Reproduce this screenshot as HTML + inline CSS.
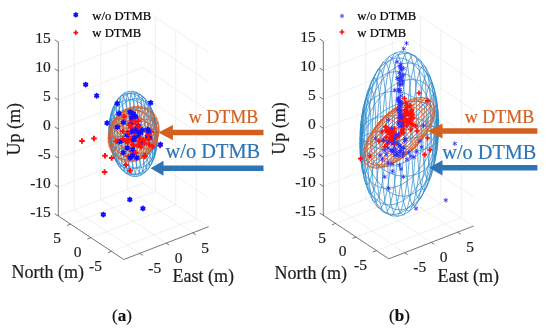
<!DOCTYPE html>
<html><head><meta charset="utf-8"><title>figure</title>
<style>html,body{margin:0;padding:0;background:#fff}svg{display:block}</style></head>
<body>
<svg width="550" height="331" viewBox="0 0 550 331" style="display:block">
<rect width="550" height="331" fill="#fff"/>
<path d="M139.7 253.3L74.2 209.8 M111.5 251.3L196.3 218.5 M74.2 209.8L74.2 35.8 M196.3 218.5L196.3 44.5 M166.2 243.1L100.7 199.6 M91 237.7L175.8 204.9 M100.7 199.6L100.7 25.6 M175.8 204.9L175.8 30.9 M192.7 232.8L127.2 189.3 M70.6 224.1L155.4 191.3 M127.2 189.3L127.2 15.3 M155.4 191.3L155.4 17.3 M58.3 216L143.1 183.2 M143.1 183.2L208.6 226.7 M58.3 187L143.1 154.2 M143.1 154.2L208.6 197.7 M58.3 158L143.1 125.2 M143.1 125.2L208.6 168.7 M58.3 129L143.1 96.2 M143.1 96.2L208.6 139.7 M58.3 100L143.1 67.2 M143.1 67.2L208.6 110.7 M58.3 71L143.1 38.2 M143.1 38.2L208.6 81.7 M58.3 42L143.1 9.2 M143.1 9.2L208.6 52.7" stroke="#e9e9e9" stroke-width="0.7" fill="none"/>
<rect x="64" y="4" width="86" height="37" fill="#fff"/>
<path d="M58.3 216L58.3 42 M58.3 216L123.8 259.5 M123.8 259.5L208.6 226.7 M139.7 253.3L142.7 255.3 M111.5 251.3L107.9 252.7 M166.2 243.1L169.2 245.1 M91 237.7L87.4 239.1 M192.7 232.8L195.7 234.8 M70.6 224.1L67 225.5 M58.3 216L54.7 213.8 M58.3 187L54.7 184.8 M58.3 158L54.7 155.8 M58.3 129L54.7 126.8 M58.3 100L54.7 97.8 M58.3 71L54.7 68.8 M58.3 42L54.7 39.8" stroke="#4a4a4a" stroke-width="0.75" fill="none"/>
<path d="M404.7 252.7L339.2 209.1 M376.5 250.6L461.3 217.8 M339.2 209.1L339.2 35.1 M461.3 217.8L461.3 43.8 M431.2 242.4L365.7 198.9 M356 237L440.8 204.2 M365.7 198.9L365.7 24.9 M440.8 204.2L440.8 30.2 M457.7 232.2L392.2 188.6 M335.6 223.4L420.4 190.6 M392.2 188.6L392.2 14.6 M420.4 190.6L420.4 16.6 M323.3 215.3L408.1 182.5 M408.1 182.5L473.6 226 M323.3 186.3L408.1 153.5 M408.1 153.5L473.6 197 M323.3 157.3L408.1 124.5 M408.1 124.5L473.6 168 M323.3 128.3L408.1 95.5 M408.1 95.5L473.6 139 M323.3 99.3L408.1 66.5 M408.1 66.5L473.6 110 M323.3 70.3L408.1 37.5 M408.1 37.5L473.6 81 M323.3 41.3L408.1 8.5 M408.1 8.5L473.6 52" stroke="#e9e9e9" stroke-width="0.7" fill="none"/>
<rect x="329" y="3.3" width="86" height="37" fill="#fff"/>
<path d="M323.3 215.3L323.3 41.3 M323.3 215.3L388.8 258.8 M388.8 258.8L473.6 226 M404.7 252.7L407.7 254.7 M376.5 250.6L372.9 252 M431.2 242.4L434.2 244.4 M356 237L352.4 238.4 M457.7 232.2L460.7 234.2 M335.6 223.4L332 224.8 M323.3 215.3L319.7 213.1 M323.3 186.3L319.7 184.1 M323.3 157.3L319.7 155.1 M323.3 128.3L319.7 126.1 M323.3 99.3L319.7 97.1 M323.3 70.3L319.7 68.1 M323.3 41.3L319.7 39.1" stroke="#4a4a4a" stroke-width="0.75" fill="none"/>
<path d="M110 138.3L109.9 131.9L110.3 125.5L111.4 119.4L112.9 113.6L115 108.3L117.5 103.6L120.4 99.7L123.6 96.6L127 94.4L130.6 93.2L134.2 93L137.9 93.8L141.4 95.6L144.7 98.3L147.7 102L150.4 106.4L152.7 111.4L154.4 117.1L155.7 123.1L156.4 129.4M110 138.3L110.2 132.8L111 127.3L112.3 122L114.2 117L116.5 112.4L119.2 108.3L122.3 104.8L125.6 102.1L129.1 100.1L132.7 99L136.4 98.7L139.9 99.3L143.3 100.8L146.4 103L149.3 106.1L151.7 109.8L153.6 114.1L155.1 118.8L156 124L156.4 129.4M110 138.3L110.6 134.3L111.7 130.2L113.3 126.2L115.5 122.4L118 118.9L121 115.8L124.2 113.1L127.7 110.9L131.3 109.3L134.9 108.2L138.5 107.9L142 108.1L145.2 109L148.2 110.5L150.8 112.6L153 115.2L154.6 118.3L155.8 121.7L156.3 125.4L156.4 129.4M110 138.3L110.9 136.1L112.3 133.8L114.2 131.5L116.6 129.3L119.4 127.2L122.6 125.2L126 123.5L129.6 122L133.3 120.8L136.9 120L140.5 119.4L143.9 119.3L147 119.5L149.8 120L152.2 120.9L154.1 122.1L155.5 123.6L156.4 125.3L156.7 127.3L156.4 129.4M110 138.3L111.1 138.1L112.8 137.9L115 137.5L117.6 137L120.6 136.5L123.9 135.8L127.5 135.2L131.2 134.5L134.9 133.8L138.6 133.1L142.1 132.4L145.5 131.7L148.5 131.1L151.2 130.6L153.4 130.1L155.1 129.8L156.3 129.5L156.9 129.4L156.9 129.3L156.4 129.4M110 138.3L111.3 140.2L113.2 141.9L115.5 143.5L118.3 144.7L121.4 145.8L124.8 146.5L128.5 146.9L132.2 147L136 146.8L139.7 146.2L143.2 145.4L146.5 144.2L149.5 142.9L152.1 141.2L154.2 139.5L155.8 137.5L156.8 135.5L157.2 133.4L157.1 131.4L156.4 129.4M110 138.3L111.4 142.1L113.3 145.6L115.7 148.9L118.5 151.8L121.7 154.2L125.2 156.2L128.9 157.6L132.7 158.4L136.5 158.6L140.2 158.2L143.7 157.2L147 155.6L149.9 153.5L152.5 150.9L154.5 147.9L156 144.6L157 140.9L157.4 137.1L157.2 133.3L156.4 129.4M110 138.3L111.4 143.6L113.2 148.6L115.6 153.2L118.4 157.4L121.6 161L125.1 163.9L128.7 166.1L132.5 167.5L136.3 168.1L140 167.8L143.5 166.7L146.8 164.7L149.8 162L152.3 158.7L154.4 154.7L155.9 150.2L156.9 145.3L157.3 140.1L157.1 134.8L156.4 129.4M110 138.3L111.2 144.6L113 150.5L115.2 156.1L117.9 161.1L121 165.4L124.4 169L127.9 171.7L131.7 173.4L135.4 174.2L139.1 174L142.7 172.8L146 170.7L149 167.6L151.6 163.7L153.8 159.1L155.4 153.9L156.5 148.1L157.1 142L157 135.7L156.4 129.4M110 138.3L111 144.9L112.5 151.2L114.6 157.1L117.1 162.5L120 167.1L123.2 170.9L126.7 173.8L130.3 175.7L134 176.5L137.7 176.4L141.2 175.1L144.6 172.9L147.7 169.7L150.4 165.6L152.7 160.8L154.6 155.2L155.9 149.2L156.6 142.7L156.8 136.1L156.4 129.4M110 138.3L110.7 144.6L111.9 150.7L113.7 156.3L116 161.4L118.6 165.8L121.7 169.4L125 172.1L128.5 173.9L132.1 174.7L135.8 174.5L139.4 173.3L142.8 171.2L146 168.1L148.9 164.1L151.4 159.5L153.5 154.2L155 148.3L156 142.2L156.5 135.8L156.4 129.4M110 138.3L110.4 143.7L111.3 148.9L112.7 153.7L114.7 158L117.1 161.7L119.9 164.7L123.1 166.9L126.5 168.4L130 169L133.6 168.7L137.3 167.6L140.8 165.6L144.1 162.9L147.2 159.4L149.9 155.3L152.2 150.7L154 145.7L155.4 140.4L156.1 134.9L156.4 129.4M110 138.3L110 142.3L110.6 146L111.7 149.5L113.4 152.5L115.6 155.1L118.2 157.2L121.1 158.7L124.4 159.6L127.8 159.9L131.5 159.5L135.1 158.5L138.7 156.9L142.2 154.7L145.4 152L148.3 148.8L150.9 145.3L153 141.5L154.7 137.5L155.8 133.5L156.4 129.4M110 138.3L109.7 140.4L110 142.4L110.8 144.1L112.2 145.6L114.1 146.8L116.5 147.7L119.3 148.3L122.5 148.5L125.9 148.3L129.4 147.8L133.1 146.9L136.8 145.7L140.4 144.2L143.8 142.5L146.9 140.5L149.7 138.4L152.1 136.2L154.1 133.9L155.5 131.6L156.4 129.4M110 138.3L109.4 138.4L109.5 138.4L110.1 138.2L111.3 137.9L113 137.6L115.2 137.1L117.9 136.6L120.9 136L124.2 135.3L127.8 134.7L131.5 134L135.2 133.2L138.9 132.5L142.4 131.9L145.8 131.3L148.8 130.7L151.4 130.2L153.6 129.9L155.2 129.6L156.4 129.4M110 138.3L109.3 136.3L109.1 134.3L109.6 132.2L110.6 130.2L112.2 128.3L114.3 126.5L116.9 124.9L119.8 123.5L123.1 122.3L126.7 121.5L130.4 120.9L134.1 120.7L137.9 120.8L141.5 121.2L145 122L148.1 123L150.9 124.3L153.2 125.8L155.1 127.5L156.4 129.4M110 138.3L109.2 134.5L109 130.6L109.4 126.8L110.3 123.2L111.8 119.8L113.9 116.8L116.4 114.2L119.4 112.1L122.6 110.5L126.2 109.5L129.9 109.1L133.7 109.3L137.5 110.2L141.1 111.6L144.6 113.5L147.8 115.9L150.7 118.8L153.1 122.1L155 125.6L156.4 129.4M110 138.3L109.2 133L109 127.6L109.4 122.4L110.4 117.5L112 113L114.1 109.1L116.6 105.7L119.6 103L122.8 101.1L126.4 100L130.1 99.7L133.9 100.2L137.7 101.6L141.3 103.8L144.8 106.7L147.9 110.3L150.7 114.5L153.1 119.1L155 124.1L156.4 129.4M110 138.3L109.4 132L109.3 125.7L109.8 119.6L110.9 113.9L112.6 108.6L114.8 104L117.4 100.1L120.4 97L123.7 94.9L127.3 93.7L131 93.5L134.7 94.3L138.4 96L142 98.7L145.4 102.3L148.4 106.6L151.1 111.6L153.4 117.2L155.1 123.2L156.4 129.4M110 138.3L109.6 131.6L109.8 125L110.5 118.5L111.8 112.5L113.6 107L115.9 102.1L118.7 98L121.8 94.8L125.1 92.6L128.7 91.4L132.4 91.2L136.1 92.1L139.7 94L143.2 96.9L146.4 100.7L149.3 105.3L151.8 110.6L153.8 116.5L155.4 122.8L156.4 129.4M109.9 131.9L110.2 132.8L110.6 134.3L110.9 136.1L111.1 138.1L111.3 140.2L111.4 142.1L111.4 143.6L111.2 144.6L111 144.9L110.7 144.6L110.4 143.7L110 142.3L109.7 140.4L109.4 138.4L109.3 136.3L109.2 134.5L109.2 133L109.4 132L109.6 131.6L109.9 131.9M110.3 125.5L111 127.3L111.7 130.2L112.3 133.8L112.8 137.9L113.2 141.9L113.3 145.6L113.2 148.6L113 150.5L112.5 151.2L111.9 150.7L111.3 148.9L110.6 146L110 142.4L109.5 138.4L109.1 134.3L109 130.6L109 127.6L109.3 125.7L109.8 125L110.3 125.5M111.4 119.4L112.3 122L113.3 126.2L114.2 131.5L115 137.5L115.5 143.5L115.7 148.9L115.6 153.2L115.2 156.1L114.6 157.1L113.7 156.3L112.7 153.7L111.7 149.5L110.8 144.1L110.1 138.2L109.6 132.2L109.4 126.8L109.4 122.4L109.8 119.6L110.5 118.5L111.4 119.4M112.9 113.6L114.2 117L115.5 122.4L116.6 129.3L117.6 137L118.3 144.7L118.5 151.8L118.4 157.4L117.9 161.1L117.1 162.5L116 161.4L114.7 158L113.4 152.5L112.2 145.6L111.3 137.9L110.6 130.2L110.3 123.2L110.4 117.5L110.9 113.9L111.8 112.5L112.9 113.6M115 108.3L116.5 112.4L118 118.9L119.4 127.2L120.6 136.5L121.4 145.8L121.7 154.2L121.6 161L121 165.4L120 167.1L118.6 165.8L117.1 161.7L115.6 155.1L114.1 146.8L113 137.6L112.2 128.3L111.8 119.8L112 113L112.6 108.6L113.6 107L115 108.3M117.5 103.6L119.2 108.3L121 115.8L122.6 125.2L123.9 135.8L124.8 146.5L125.2 156.2L125.1 163.9L124.4 169L123.2 170.9L121.7 169.4L119.9 164.7L118.2 157.2L116.5 147.7L115.2 137.1L114.3 126.5L113.9 116.8L114.1 109.1L114.8 104L115.9 102.1L117.5 103.6M120.4 99.7L122.3 104.8L124.2 113.1L126 123.5L127.5 135.2L128.5 146.9L128.9 157.6L128.7 166.1L127.9 171.7L126.7 173.8L125 172.1L123.1 166.9L121.1 158.7L119.3 148.3L117.9 136.6L116.9 124.9L116.4 114.2L116.6 105.7L117.4 100.1L118.7 98L120.4 99.7M123.6 96.6L125.6 102.1L127.7 110.9L129.6 122L131.2 134.5L132.2 147L132.7 158.4L132.5 167.5L131.7 173.4L130.3 175.7L128.5 173.9L126.5 168.4L124.4 159.6L122.5 148.5L120.9 136L119.8 123.5L119.4 112.1L119.6 103L120.4 97L121.8 94.8L123.6 96.6M127 94.4L129.1 100.1L131.3 109.3L133.3 120.8L134.9 133.8L136 146.8L136.5 158.6L136.3 168.1L135.4 174.2L134 176.5L132.1 174.7L130 169L127.8 159.9L125.9 148.3L124.2 135.3L123.1 122.3L122.6 110.5L122.8 101.1L123.7 94.9L125.1 92.6L127 94.4M130.6 93.2L132.7 99L134.9 108.2L136.9 120L138.6 133.1L139.7 146.2L140.2 158.2L140 167.8L139.1 174L137.7 176.4L135.8 174.5L133.6 168.7L131.5 159.5L129.4 147.8L127.8 134.7L126.7 121.5L126.2 109.5L126.4 100L127.3 93.7L128.7 91.4L130.6 93.2M134.2 93L136.4 98.7L138.5 107.9L140.5 119.4L142.1 132.4L143.2 145.4L143.7 157.2L143.5 166.7L142.7 172.8L141.2 175.1L139.4 173.3L137.3 167.6L135.1 158.5L133.1 146.9L131.5 134L130.4 120.9L129.9 109.1L130.1 99.7L131 93.5L132.4 91.2L134.2 93M137.9 93.8L139.9 99.3L142 108.1L143.9 119.3L145.5 131.7L146.5 144.2L147 155.6L146.8 164.7L146 170.7L144.6 172.9L142.8 171.2L140.8 165.6L138.7 156.9L136.8 145.7L135.2 133.2L134.1 120.7L133.7 109.3L133.9 100.2L134.7 94.3L136.1 92.1L137.9 93.8M141.4 95.6L143.3 100.8L145.2 109L147 119.5L148.5 131.1L149.5 142.9L149.9 153.5L149.8 162L149 167.6L147.7 169.7L146 168.1L144.1 162.9L142.2 154.7L140.4 144.2L138.9 132.5L137.9 120.8L137.5 110.2L137.7 101.6L138.4 96L139.7 94L141.4 95.6M144.7 98.3L146.4 103L148.2 110.5L149.8 120L151.2 130.6L152.1 141.2L152.5 150.9L152.3 158.7L151.6 163.7L150.4 165.6L148.9 164.1L147.2 159.4L145.4 152L143.8 142.5L142.4 131.9L141.5 121.2L141.1 111.6L141.3 103.8L142 98.7L143.2 96.9L144.7 98.3M147.7 102L149.3 106.1L150.8 112.6L152.2 120.9L153.4 130.1L154.2 139.5L154.5 147.9L154.4 154.7L153.8 159.1L152.7 160.8L151.4 159.5L149.9 155.3L148.3 148.8L146.9 140.5L145.8 131.3L145 122L144.6 113.5L144.8 106.7L145.4 102.3L146.4 100.7L147.7 102M150.4 106.4L151.7 109.8L153 115.2L154.1 122.1L155.1 129.8L155.8 137.5L156 144.6L155.9 150.2L155.4 153.9L154.6 155.2L153.5 154.2L152.2 150.7L150.9 145.3L149.7 138.4L148.8 130.7L148.1 123L147.8 115.9L147.9 110.3L148.4 106.6L149.3 105.3L150.4 106.4M152.7 111.4L153.6 114.1L154.6 118.3L155.5 123.6L156.3 129.5L156.8 135.5L157 140.9L156.9 145.3L156.5 148.1L155.9 149.2L155 148.3L154 145.7L153 141.5L152.1 136.2L151.4 130.2L150.9 124.3L150.7 118.8L150.7 114.5L151.1 111.6L151.8 110.6L152.7 111.4M154.4 117.1L155.1 118.8L155.8 121.7L156.4 125.3L156.9 129.4L157.2 133.4L157.4 137.1L157.3 140.1L157.1 142L156.6 142.7L156 142.2L155.4 140.4L154.7 137.5L154.1 133.9L153.6 129.9L153.2 125.8L153.1 122.1L153.1 119.1L153.4 117.2L153.8 116.5L154.4 117.1M155.7 123.1L156 124L156.3 125.4L156.7 127.3L156.9 129.3L157.1 131.4L157.2 133.3L157.1 134.8L157 135.7L156.8 136.1L156.5 135.8L156.1 134.9L155.8 133.5L155.5 131.6L155.2 129.6L155.1 127.5L155 125.6L155 124.1L155.1 123.2L155.4 122.8L155.7 123.1" stroke="#2b8acb" stroke-width="0.7" fill="none" stroke-linejoin="round"/>
<path d="M153.8 146.9L156 142.9L157.6 138.6L158.7 134.3L159.1 129.9L158.9 125.7L158.1 121.6L156.7 117.8L154.7 114.5L152.2 111.6L149.2 109.3L145.8 107.6L142.2 106.5L138.3 106.1L134.3 106.4L130.3 107.4L126.4 109L122.7 111.3L119.2 114.1L116.1 117.4L113.4 121.1M153.8 146.9L155.9 143L157.4 138.9L158.3 134.7L158.6 130.5L158.3 126.3L157.4 122.4L155.9 118.7L153.8 115.4L151.3 112.6L148.3 110.2L144.9 108.5L141.3 107.4L137.5 107L133.6 107.2L129.7 108.1L125.9 109.6L122.3 111.7L118.9 114.4L115.9 117.5L113.4 121.1M153.8 146.9L155.5 143.5L156.6 140L157.2 136.2L157.2 132.4L156.6 128.7L155.5 125L153.8 121.6L151.6 118.5L149 115.8L145.9 113.5L142.6 111.8L139.1 110.5L135.4 109.9L131.7 109.8L128 110.4L124.5 111.5L121.2 113.2L118.2 115.4L115.6 118L113.4 121.1M153.8 146.9L154.9 144.4L155.5 141.6L155.6 138.6L155.1 135.5L154.1 132.4L152.6 129.3L150.6 126.3L148.2 123.5L145.5 121L142.4 118.8L139.1 117L135.7 115.6L132.3 114.6L128.8 114.1L125.5 114.1L122.4 114.6L119.6 115.6L117.1 117L115 118.9L113.4 121.1M153.8 146.9L154.3 145.4L154.2 143.7L153.6 141.7L152.5 139.5L151 137.2L149 134.8L146.7 132.4L144 130L141.1 127.7L138 125.6L134.8 123.7L131.5 122L128.3 120.6L125.3 119.6L122.4 118.9L119.8 118.6L117.6 118.7L115.7 119.1L114.3 119.9L113.4 121.1M153.8 146.9L153.5 146.6L152.7 146L151.4 145.1L149.7 144L147.6 142.5L145.1 140.9L142.4 139.1L139.4 137.2L136.3 135.2L133.2 133.2L130 131.2L126.9 129.2L124 127.4L121.4 125.7L119 124.3L117 123.1L115.4 122.1L114.2 121.5L113.6 121.1L113.4 121.1M153.8 146.9L152.8 147.8L151.2 148.4L149.2 148.6L146.9 148.5L144.2 148L141.2 147.1L138.1 146L134.9 144.5L131.6 142.8L128.4 140.8L125.3 138.7L122.4 136.5L119.8 134.2L117.5 131.9L115.6 129.7L114.2 127.6L113.2 125.6L112.8 123.8L112.8 122.3L113.4 121.1M153.8 146.9L152.1 148.9L149.9 150.6L147.3 151.8L144.4 152.6L141.2 152.9L137.8 152.8L134.3 152.2L130.8 151.2L127.4 149.7L124.1 147.8L121 145.7L118.3 143.2L115.9 140.5L114 137.6L112.6 134.7L111.7 131.7L111.3 128.8L111.4 126L112.2 123.4L113.4 121.1M153.8 146.9L151.6 149.8L148.9 152.3L145.8 154.4L142.4 155.9L138.8 156.9L135.1 157.4L131.3 157.2L127.6 156.5L124.1 155.3L120.7 153.5L117.7 151.2L115.1 148.5L113 145.5L111.3 142.2L110.2 138.6L109.7 135L109.8 131.3L110.4 127.7L111.6 124.3L113.4 121.1M153.8 146.9L151.2 150.4L148.2 153.5L144.8 156L141.2 158.1L137.3 159.6L133.4 160.4L129.5 160.6L125.6 160.1L122 159L118.6 157.2L115.7 154.9L113.1 152.1L111.1 148.8L109.6 145.2L108.7 141.3L108.5 137.2L108.8 133L109.8 128.9L111.3 124.9L113.4 121.1M153.8 146.9L151.1 150.6L148 153.9L144.5 156.7L140.8 159L136.9 160.6L132.9 161.6L128.9 161.9L125 161.5L121.4 160.4L118 158.7L115.1 156.4L112.5 153.5L110.5 150.1L109.1 146.4L108.3 142.3L108.1 138.1L108.5 133.7L109.6 129.3L111.2 125.1L113.4 121.1M153.8 146.9L151.3 150.5L148.3 153.6L145 156.3L141.3 158.4L137.5 159.9L133.6 160.8L129.7 161L125.9 160.6L122.3 159.5L118.9 157.7L115.9 155.4L113.4 152.6L111.4 149.3L109.8 145.6L108.9 141.6L108.6 137.5L108.9 133.3L109.8 129L111.3 124.9L113.4 121.1M153.8 146.9L151.6 149.9L149 152.6L146 154.8L142.7 156.5L139.2 157.6L135.5 158.1L131.8 158.1L128.1 157.4L124.6 156.2L121.3 154.5L118.3 152.2L115.6 149.5L113.4 146.4L111.7 143L110.6 139.3L110 135.6L110 131.8L110.6 128L111.7 124.4L113.4 121.1M153.8 146.9L152.2 149.1L150.1 151L147.6 152.4L144.8 153.4L141.7 153.9L138.4 153.9L135 153.4L131.5 152.4L128.1 151L124.8 149.2L121.8 147L119 144.4L116.6 141.6L114.6 138.7L113.1 135.6L112.1 132.5L111.6 129.4L111.7 126.4L112.3 123.6L113.4 121.1M153.8 146.9L152.9 148.1L151.5 148.9L149.6 149.3L147.4 149.4L144.8 149.1L141.9 148.4L138.9 147.3L135.7 146L132.4 144.3L129.2 142.4L126.1 140.3L123.2 138L120.5 135.6L118.2 133.2L116.2 130.8L114.7 128.5L113.6 126.3L113 124.3L113 122.5L113.4 121.1M153.8 146.9L153.6 146.9L153 146.5L151.8 145.9L150.2 144.9L148.2 143.7L145.9 142.2L143.2 140.6L140.3 138.8L137.2 136.8L134.1 134.8L130.9 132.8L127.8 130.8L124.8 128.9L122.1 127.1L119.6 125.4L117.5 124L115.8 122.8L114.5 122L113.7 121.4L113.4 121.1M153.8 146.9L154.4 145.7L154.5 144.2L154 142.4L153 140.4L151.6 138.3L149.7 136L147.5 133.7L144.8 131.5L142 129.2L138.9 127.1L135.6 125.2L132.4 123.5L129.1 122L126 120.8L123 120L120.3 119.5L118 119.4L116 119.6L114.5 120.2L113.4 121.1M153.8 146.9L155.1 144.6L155.8 142L155.9 139.2L155.6 136.3L154.6 133.3L153.2 130.4L151.3 127.5L148.9 124.8L146.2 122.3L143.1 120.1L139.9 118.3L136.4 116.8L132.9 115.8L129.4 115.2L126 115.1L122.9 115.4L119.9 116.2L117.3 117.4L115.1 119.1L113.4 121.1M153.8 146.9L155.6 143.7L156.8 140.2L157.5 136.6L157.5 133L157 129.3L155.9 125.8L154.3 122.5L152.1 119.4L149.5 116.7L146.5 114.5L143.2 112.7L139.6 111.4L135.9 110.7L132.1 110.6L128.4 111.1L124.8 112.1L121.4 113.6L118.4 115.7L115.7 118.2L113.4 121.1M153.8 146.9L155.9 143.1L157.5 139.1L158.4 134.9L158.8 130.8L158.5 126.7L157.6 122.8L156.1 119.1L154.1 115.9L151.5 113.1L148.6 110.7L145.2 109L141.6 107.9L137.8 107.4L133.8 107.6L129.9 108.4L126 109.9L122.4 111.9L119 114.5L116 117.6L113.4 121.1M156 142.9L155.9 143L155.5 143.5L154.9 144.4L154.3 145.4L153.5 146.6L152.8 147.8L152.1 148.9L151.6 149.8L151.2 150.4L151.1 150.6L151.3 150.5L151.6 149.9L152.2 149.1L152.9 148.1L153.6 146.9L154.4 145.7L155.1 144.6L155.6 143.7L155.9 143.1L156 142.9M157.6 138.6L157.4 138.9L156.6 140L155.5 141.6L154.2 143.7L152.7 146L151.2 148.4L149.9 150.6L148.9 152.3L148.2 153.5L148 153.9L148.3 153.6L149 152.6L150.1 151L151.5 148.9L153 146.5L154.5 144.2L155.8 142L156.8 140.2L157.5 139.1L157.6 138.6M158.7 134.3L158.3 134.7L157.2 136.2L155.6 138.6L153.6 141.7L151.4 145.1L149.2 148.6L147.3 151.8L145.8 154.4L144.8 156L144.5 156.7L145 156.3L146 154.8L147.6 152.4L149.6 149.3L151.8 145.9L154 142.4L155.9 139.2L157.5 136.6L158.4 134.9L158.7 134.3M159.1 129.9L158.6 130.5L157.2 132.4L155.1 135.5L152.5 139.5L149.7 144L146.9 148.5L144.4 152.6L142.4 155.9L141.2 158.1L140.8 159L141.3 158.4L142.7 156.5L144.8 153.4L147.4 149.4L150.2 144.9L153 140.4L155.6 136.3L157.5 133L158.8 130.8L159.1 129.9M158.9 125.7L158.3 126.3L156.6 128.7L154.1 132.4L151 137.2L147.6 142.5L144.2 148L141.2 152.9L138.8 156.9L137.3 159.6L136.9 160.6L137.5 159.9L139.2 157.6L141.7 153.9L144.8 149.1L148.2 143.7L151.6 138.3L154.6 133.3L157 129.3L158.5 126.7L158.9 125.7M158.1 121.6L157.4 122.4L155.5 125L152.6 129.3L149 134.8L145.1 140.9L141.2 147.1L137.8 152.8L135.1 157.4L133.4 160.4L132.9 161.6L133.6 160.8L135.5 158.1L138.4 153.9L141.9 148.4L145.9 142.2L149.7 136L153.2 130.4L155.9 125.8L157.6 122.8L158.1 121.6M156.7 117.8L155.9 118.7L153.8 121.6L150.6 126.3L146.7 132.4L142.4 139.1L138.1 146L134.3 152.2L131.3 157.2L129.5 160.6L128.9 161.9L129.7 161L131.8 158.1L135 153.4L138.9 147.3L143.2 140.6L147.5 133.7L151.3 127.5L154.3 122.5L156.1 119.1L156.7 117.8M154.7 114.5L153.8 115.4L151.6 118.5L148.2 123.5L144 130L139.4 137.2L134.9 144.5L130.8 151.2L127.6 156.5L125.6 160.1L125 161.5L125.9 160.6L128.1 157.4L131.5 152.4L135.7 146L140.3 138.8L144.8 131.5L148.9 124.8L152.1 119.4L154.1 115.9L154.7 114.5M152.2 111.6L151.3 112.6L149 115.8L145.5 121L141.1 127.7L136.3 135.2L131.6 142.8L127.4 149.7L124.1 155.3L122 159L121.4 160.4L122.3 159.5L124.6 156.2L128.1 151L132.4 144.3L137.2 136.8L142 129.2L146.2 122.3L149.5 116.7L151.5 113.1L152.2 111.6M149.2 109.3L148.3 110.2L145.9 113.5L142.4 118.8L138 125.6L133.2 133.2L128.4 140.8L124.1 147.8L120.7 153.5L118.6 157.2L118 158.7L118.9 157.7L121.3 154.5L124.8 149.2L129.2 142.4L134.1 134.8L138.9 127.1L143.1 120.1L146.5 114.5L148.6 110.7L149.2 109.3M145.8 107.6L144.9 108.5L142.6 111.8L139.1 117L134.8 123.7L130 131.2L125.3 138.7L121 145.7L117.7 151.2L115.7 154.9L115.1 156.4L115.9 155.4L118.3 152.2L121.8 147L126.1 140.3L130.9 132.8L135.6 125.2L139.9 118.3L143.2 112.7L145.2 109L145.8 107.6M142.2 106.5L141.3 107.4L139.1 110.5L135.7 115.6L131.5 122L126.9 129.2L122.4 136.5L118.3 143.2L115.1 148.5L113.1 152.1L112.5 153.5L113.4 152.6L115.6 149.5L119 144.4L123.2 138L127.8 130.8L132.4 123.5L136.4 116.8L139.6 111.4L141.6 107.9L142.2 106.5M138.3 106.1L137.5 107L135.4 109.9L132.3 114.6L128.3 120.6L124 127.4L119.8 134.2L115.9 140.5L113 145.5L111.1 148.8L110.5 150.1L111.4 149.3L113.4 146.4L116.6 141.6L120.5 135.6L124.8 128.9L129.1 122L132.9 115.8L135.9 110.7L137.8 107.4L138.3 106.1M134.3 106.4L133.6 107.2L131.7 109.8L128.8 114.1L125.3 119.6L121.4 125.7L117.5 131.9L114 137.6L111.3 142.2L109.6 145.2L109.1 146.4L109.8 145.6L111.7 143L114.6 138.7L118.2 133.2L122.1 127.1L126 120.8L129.4 115.2L132.1 110.6L133.8 107.6L134.3 106.4M130.3 107.4L129.7 108.1L128 110.4L125.5 114.1L122.4 118.9L119 124.3L115.6 129.7L112.6 134.7L110.2 138.6L108.7 141.3L108.3 142.3L108.9 141.6L110.6 139.3L113.1 135.6L116.2 130.8L119.6 125.4L123 120L126 115.1L128.4 111.1L129.9 108.4L130.3 107.4M126.4 109L125.9 109.6L124.5 111.5L122.4 114.6L119.8 118.6L117 123.1L114.2 127.6L111.7 131.7L109.7 135L108.5 137.2L108.1 138.1L108.6 137.5L110 135.6L112.1 132.5L114.7 128.5L117.5 124L120.3 119.5L122.9 115.4L124.8 112.1L126 109.9L126.4 109M122.7 111.3L122.3 111.7L121.2 113.2L119.6 115.6L117.6 118.7L115.4 122.1L113.2 125.6L111.3 128.8L109.8 131.3L108.8 133L108.5 133.7L108.9 133.3L110 131.8L111.6 129.4L113.6 126.3L115.8 122.8L118 119.4L119.9 116.2L121.4 113.6L122.4 111.9L122.7 111.3M119.2 114.1L118.9 114.4L118.2 115.4L117.1 117L115.7 119.1L114.2 121.5L112.8 123.8L111.4 126L110.4 127.7L109.8 128.9L109.6 129.3L109.8 129L110.6 128L111.7 126.4L113 124.3L114.5 122L116 119.6L117.3 117.4L118.4 115.7L119 114.5L119.2 114.1M116.1 117.4L115.9 117.5L115.6 118L115 118.9L114.3 119.9L113.6 121.1L112.8 122.3L112.2 123.4L111.6 124.3L111.3 124.9L111.2 125.1L111.3 124.9L111.7 124.4L112.3 123.6L113 122.5L113.7 121.4L114.5 120.2L115.1 119.1L115.7 118.2L116 117.6L116.1 117.4" stroke="#d9602a" stroke-width="0.7" fill="none" stroke-linejoin="round"/>
<path d="M361.6 136.8L362.8 124.2L365 111.8L368 99.9L371.7 88.9L376.2 79L381.2 70.4L386.6 63.4L392.4 58.1L398.3 54.7L404.3 53.3L410.1 53.8L415.7 56.3L420.8 60.7L425.5 67L429.4 74.8L432.7 84.2L435.1 94.7L436.6 106.2L437.2 118.4L436.9 131M361.6 136.8L363.3 125.7L365.9 114.7L369.4 104.3L373.5 94.5L378.3 85.8L383.6 78.2L389.3 72L395.3 67.3L401.3 64.2L407.3 62.9L413.1 63.3L418.6 65.5L423.5 69.3L427.9 74.7L431.6 81.6L434.5 89.8L436.5 99.1L437.6 109.2L437.7 119.9L436.9 131M361.6 136.8L363.7 128.3L366.6 119.9L370.4 111.8L374.8 104.3L379.9 97.5L385.4 91.6L391.3 86.7L397.4 83L403.5 80.6L409.5 79.5L415.3 79.7L420.7 81.2L425.5 84.1L429.7 88.1L433.2 93.3L435.8 99.5L437.5 106.6L438.2 114.3L438 122.5L436.9 131M361.6 136.8L363.9 131.7L367 126.6L370.9 121.7L375.6 117.1L380.8 113L386.4 109.3L392.4 106.2L398.6 103.9L404.7 102.2L410.8 101.4L416.5 101.3L421.8 102.1L426.6 103.6L430.7 105.9L434 108.8L436.5 112.4L438 116.5L438.6 121.1L438.2 125.9L436.9 131M361.6 136.8L363.9 135.6L367 134.4L371 133.1L375.6 131.9L380.8 130.7L386.5 129.6L392.5 128.6L398.7 127.7L404.8 127L410.9 126.4L416.6 126.1L421.9 125.9L426.7 125.9L430.8 126.2L434.1 126.6L436.5 127.2L438.1 127.9L438.7 128.8L438.3 129.9L436.9 131M361.6 136.8L363.7 139.7L366.7 142.4L370.5 144.8L375 147.1L380.1 148.9L385.7 150.5L391.6 151.6L397.7 152.3L403.8 152.5L409.8 152.3L415.6 151.6L420.9 150.5L425.8 148.9L429.9 147L433.4 144.8L435.9 142.3L437.6 139.6L438.3 136.8L438.1 133.9L436.9 131M361.6 136.8L363.4 143.4L366.1 149.8L369.6 155.7L373.8 161.2L378.6 165.9L384 169.9L389.7 173L395.7 175.1L401.8 176.2L407.8 176.3L413.5 175.3L419 173.3L423.9 170.3L428.3 166.5L431.9 161.8L434.7 156.5L436.7 150.5L437.7 144.2L437.8 137.7L436.9 131M361.6 136.8L362.9 146.5L365.2 155.9L368.2 164.8L372.1 172.9L376.6 180L381.6 186L387.1 190.7L392.9 194L398.9 195.8L404.8 196.2L410.7 194.9L416.2 192.2L421.3 188L425.9 182.6L429.8 175.9L433 168.1L435.3 159.6L436.8 150.4L437.3 140.8L436.9 131M361.6 136.8L362.4 148.7L364.1 160.2L366.7 171L370 181L374.1 189.7L378.8 197.1L384.1 203L389.6 207.1L395.5 209.5L401.4 209.9L407.3 208.5L412.9 205.3L418.3 200.3L423.1 193.7L427.4 185.6L431 176.2L433.8 165.8L435.7 154.6L436.8 142.9L436.9 131M361.6 136.8L361.8 149.7L363 162.1L365 173.9L367.9 184.7L371.5 194.2L375.9 202.3L380.8 208.6L386.2 213.1L391.8 215.7L397.7 216.3L403.6 214.8L409.4 211.3L415 206L420.1 198.8L424.8 190.1L428.8 180L432.1 168.7L434.6 156.6L436.2 143.9L436.9 131M361.6 136.8L361.3 149.4L361.9 161.6L363.4 173.1L365.8 183.7L369.1 193L373 200.9L377.7 207.1L382.8 211.5L388.4 214L394.2 214.5L400.2 213.1L406.1 209.7L411.8 204.4L417.3 197.4L422.3 188.9L426.7 179L430.5 167.9L433.5 156.1L435.6 143.6L436.9 131M361.6 136.8L360.8 147.9L360.9 158.6L362 168.8L364 178L366.9 186.2L370.6 193.1L375 198.5L379.9 202.4L385.4 204.5L391.2 204.9L397.2 203.6L403.2 200.6L409.2 195.9L414.9 189.7L420.2 182.1L425 173.3L429.1 163.6L432.6 153.1L435.2 142.1L436.9 131M361.6 136.8L360.4 145.3L360.2 153.5L361 161.2L362.7 168.3L365.3 174.5L368.8 179.7L373 183.8L377.8 186.6L383.2 188.1L388.9 188.4L395 187.2L401.1 184.8L407.2 181.1L413 176.3L418.6 170.4L423.7 163.6L428.1 156L431.9 148L434.8 139.6L436.9 131M361.6 136.8L360.2 141.9L359.9 146.7L360.5 151.3L362 155.4L364.5 159L367.8 162L371.9 164.2L376.6 165.8L382 166.5L387.7 166.5L393.7 165.6L399.9 164L406.1 161.6L412.1 158.5L417.7 154.9L422.9 150.7L427.6 146.1L431.5 141.2L434.6 136.1L436.9 131M361.6 136.8L360.2 138L359.8 139L360.4 139.9L361.9 140.7L364.4 141.3L367.7 141.7L371.8 141.9L376.5 141.9L381.9 141.7L387.6 141.4L393.6 140.8L399.8 140.1L406 139.2L412 138.2L417.6 137.1L422.9 135.9L427.5 134.7L431.5 133.4L434.6 132.2L436.9 131M361.6 136.8L360.4 133.9L360.2 131L360.9 128.2L362.6 125.5L365.1 123L368.5 120.8L372.7 118.9L377.5 117.4L382.9 116.2L388.7 115.6L394.7 115.3L400.8 115.6L406.9 116.2L412.8 117.4L418.4 118.9L423.5 120.8L428 123L431.8 125.5L434.8 128.2L436.9 131M361.6 136.8L360.7 130.2L360.8 123.6L361.8 117.3L363.8 111.4L366.6 106L370.2 101.3L374.6 97.5L379.5 94.5L384.9 92.5L390.7 91.5L396.7 91.6L402.8 92.7L408.8 94.8L414.5 97.9L419.9 101.9L424.7 106.7L428.9 112.1L432.4 118L435.1 124.4L436.9 131M361.6 136.8L361.2 127.1L361.7 117.5L363.1 108.3L365.5 99.7L368.7 92L372.6 85.3L377.2 79.8L382.3 75.6L387.8 72.9L393.6 71.7L399.6 72L405.6 73.8L411.3 77.1L416.8 81.8L421.9 87.8L426.4 95L430.3 103.1L433.3 111.9L435.6 121.3L436.9 131M361.6 136.8L361.7 124.9L362.8 113.2L364.7 102L367.5 91.6L371.1 82.2L375.4 74.1L380.2 67.5L385.6 62.5L391.2 59.3L397.1 57.9L403 58.4L408.8 60.7L414.4 64.9L419.6 70.7L424.4 78.1L428.4 86.9L431.8 96.8L434.4 107.6L436.1 119.1L436.9 131M361.6 136.8L362.3 123.9L363.9 111.2L366.4 99.1L369.7 87.9L373.7 77.7L378.3 69L383.5 61.9L389.1 56.5L394.9 53L400.8 51.6L406.6 52.1L412.3 54.7L417.7 59.2L422.6 65.6L426.9 73.6L430.6 83.1L433.5 93.9L435.5 105.7L436.7 118.1L436.9 131M362.8 124.2L363.3 125.7L363.7 128.3L363.9 131.7L363.9 135.6L363.7 139.7L363.4 143.4L362.9 146.5L362.4 148.7L361.8 149.7L361.3 149.4L360.8 147.9L360.4 145.3L360.2 141.9L360.2 138L360.4 133.9L360.7 130.2L361.2 127.1L361.7 124.9L362.3 123.9L362.8 124.2M365 111.8L365.9 114.7L366.6 119.9L367 126.6L367 134.4L366.7 142.4L366.1 149.8L365.2 155.9L364.1 160.2L363 162.1L361.9 161.6L360.9 158.6L360.2 153.5L359.9 146.7L359.8 139L360.2 131L360.8 123.6L361.7 117.5L362.8 113.2L363.9 111.2L365 111.8M368 99.9L369.4 104.3L370.4 111.8L370.9 121.7L371 133.1L370.5 144.8L369.6 155.7L368.2 164.8L366.7 171L365 173.9L363.4 173.1L362 168.8L361 161.2L360.5 151.3L360.4 139.9L360.9 128.2L361.8 117.3L363.1 108.3L364.7 102L366.4 99.1L368 99.9M371.7 88.9L373.5 94.5L374.8 104.3L375.6 117.1L375.6 131.9L375 147.1L373.8 161.2L372.1 172.9L370 181L367.9 184.7L365.8 183.7L364 178L362.7 168.3L362 155.4L361.9 140.7L362.6 125.5L363.8 111.4L365.5 99.7L367.5 91.6L369.7 87.9L371.7 88.9M376.2 79L378.3 85.8L379.9 97.5L380.8 113L380.8 130.7L380.1 148.9L378.6 165.9L376.6 180L374.1 189.7L371.5 194.2L369.1 193L366.9 186.2L365.3 174.5L364.5 159L364.4 141.3L365.1 123L366.6 106L368.7 92L371.1 82.2L373.7 77.7L376.2 79M381.2 70.4L383.6 78.2L385.4 91.6L386.4 109.3L386.5 129.6L385.7 150.5L384 169.9L381.6 186L378.8 197.1L375.9 202.3L373 200.9L370.6 193.1L368.8 179.7L367.8 162L367.7 141.7L368.5 120.8L370.2 101.3L372.6 85.3L375.4 74.1L378.3 69L381.2 70.4M386.6 63.4L389.3 72L391.3 86.7L392.4 106.2L392.5 128.6L391.6 151.6L389.7 173L387.1 190.7L384.1 203L380.8 208.6L377.7 207.1L375 198.5L373 183.8L371.9 164.2L371.8 141.9L372.7 118.9L374.6 97.5L377.2 79.8L380.2 67.5L383.5 61.9L386.6 63.4M392.4 58.1L395.3 67.3L397.4 83L398.6 103.9L398.7 127.7L397.7 152.3L395.7 175.1L392.9 194L389.6 207.1L386.2 213.1L382.8 211.5L379.9 202.4L377.8 186.6L376.6 165.8L376.5 141.9L377.5 117.4L379.5 94.5L382.3 75.6L385.6 62.5L389.1 56.5L392.4 58.1M398.3 54.7L401.3 64.2L403.5 80.6L404.7 102.2L404.8 127L403.8 152.5L401.8 176.2L398.9 195.8L395.5 209.5L391.8 215.7L388.4 214L385.4 204.5L383.2 188.1L382 166.5L381.9 141.7L382.9 116.2L384.9 92.5L387.8 72.9L391.2 59.3L394.9 53L398.3 54.7M404.3 53.3L407.3 62.9L409.5 79.5L410.8 101.4L410.9 126.4L409.8 152.3L407.8 176.3L404.8 196.2L401.4 209.9L397.7 216.3L394.2 214.5L391.2 204.9L388.9 188.4L387.7 166.5L387.6 141.4L388.7 115.6L390.7 91.5L393.6 71.7L397.1 57.9L400.8 51.6L404.3 53.3M410.1 53.8L413.1 63.3L415.3 79.7L416.5 101.3L416.6 126.1L415.6 151.6L413.5 175.3L410.7 194.9L407.3 208.5L403.6 214.8L400.2 213.1L397.2 203.6L395 187.2L393.7 165.6L393.6 140.8L394.7 115.3L396.7 91.6L399.6 72L403 58.4L406.6 52.1L410.1 53.8M415.7 56.3L418.6 65.5L420.7 81.2L421.8 102.1L421.9 125.9L420.9 150.5L419 173.3L416.2 192.2L412.9 205.3L409.4 211.3L406.1 209.7L403.2 200.6L401.1 184.8L399.9 164L399.8 140.1L400.8 115.6L402.8 92.7L405.6 73.8L408.8 60.7L412.3 54.7L415.7 56.3M420.8 60.7L423.5 69.3L425.5 84.1L426.6 103.6L426.7 125.9L425.8 148.9L423.9 170.3L421.3 188L418.3 200.3L415 206L411.8 204.4L409.2 195.9L407.2 181.1L406.1 161.6L406 139.2L406.9 116.2L408.8 94.8L411.3 77.1L414.4 64.9L417.7 59.2L420.8 60.7M425.5 67L427.9 74.7L429.7 88.1L430.7 105.9L430.8 126.2L429.9 147L428.3 166.5L425.9 182.6L423.1 193.7L420.1 198.8L417.3 197.4L414.9 189.7L413 176.3L412.1 158.5L412 138.2L412.8 117.4L414.5 97.9L416.8 81.8L419.6 70.7L422.6 65.6L425.5 67M429.4 74.8L431.6 81.6L433.2 93.3L434 108.8L434.1 126.6L433.4 144.8L431.9 161.8L429.8 175.9L427.4 185.6L424.8 190.1L422.3 188.9L420.2 182.1L418.6 170.4L417.7 154.9L417.6 137.1L418.4 118.9L419.9 101.9L421.9 87.8L424.4 78.1L426.9 73.6L429.4 74.8M432.7 84.2L434.5 89.8L435.8 99.5L436.5 112.4L436.5 127.2L435.9 142.3L434.7 156.5L433 168.1L431 176.2L428.8 180L426.7 179L425 173.3L423.7 163.6L422.9 150.7L422.9 135.9L423.5 120.8L424.7 106.7L426.4 95L428.4 86.9L430.6 83.1L432.7 84.2M435.1 94.7L436.5 99.1L437.5 106.6L438 116.5L438.1 127.9L437.6 139.6L436.7 150.5L435.3 159.6L433.8 165.8L432.1 168.7L430.5 167.9L429.1 163.6L428.1 156L427.6 146.1L427.5 134.7L428 123L428.9 112.1L430.3 103.1L431.8 96.8L433.5 93.9L435.1 94.7M436.6 106.2L437.6 109.2L438.2 114.3L438.6 121.1L438.7 128.8L438.3 136.8L437.7 144.2L436.8 150.4L435.7 154.6L434.6 156.6L433.5 156.1L432.6 153.1L431.9 148L431.5 141.2L431.5 133.4L431.8 125.5L432.4 118L433.3 111.9L434.4 107.6L435.5 105.7L436.6 106.2M437.2 118.4L437.7 119.9L438 122.5L438.2 125.9L438.3 129.9L438.1 133.9L437.8 137.7L437.3 140.8L436.8 142.9L436.2 143.9L435.6 143.6L435.2 142.1L434.8 139.6L434.6 136.1L434.6 132.2L434.8 128.2L435.1 124.4L435.6 121.3L436.1 119.1L436.7 118.1L437.2 118.4" stroke="#2b8acb" stroke-width="0.7" fill="none" stroke-linejoin="round"/>
<path d="M414 148.4L418.9 143.3L423.3 137.8L427.2 132.3L430.3 126.7L432.7 121.4L434.2 116.3L434.9 111.6L434.7 107.4L433.6 103.9L431.7 101L428.9 99L425.4 97.8L421.3 97.4L416.6 97.9L411.5 99.3L406.1 101.5L400.5 104.5L394.8 108.2L389.3 112.5L384 117.3M414 148.4L418.5 143.7L422.5 138.6L425.9 133.4L428.7 128.2L430.8 123.2L432 118.3L432.5 113.8L432.1 109.8L430.9 106.4L429 103.6L426.2 101.5L422.9 100.2L418.9 99.7L414.4 100L409.6 101.1L404.5 103L399.2 105.7L394 109L388.9 112.9L384 117.3M414 148.4L417.6 144.5L420.7 140.3L423.4 135.9L425.4 131.4L426.8 127L427.5 122.7L427.5 118.7L426.7 115L425.4 111.7L423.3 109L420.7 106.9L417.5 105.4L413.9 104.5L409.9 104.4L405.6 105L401.2 106.2L396.7 108.1L392.3 110.7L388 113.7L384 117.3M414 148.4L416.3 145.7L418.3 142.7L419.7 139.4L420.7 136L421.1 132.5L421 129L420.3 125.6L419.1 122.4L417.4 119.4L415.3 116.8L412.7 114.5L409.9 112.7L406.7 111.4L403.4 110.7L399.9 110.5L396.4 110.8L393 111.7L389.8 113.1L386.7 115L384 117.3M414 148.4L414.8 147.2L415.3 145.6L415.4 143.7L415 141.5L414.3 139.1L413.2 136.5L411.7 133.9L410 131.2L407.9 128.6L405.7 126.1L403.2 123.7L400.7 121.6L398.1 119.8L395.6 118.2L393.1 117.1L390.8 116.3L388.7 115.9L386.8 115.9L385.2 116.4L384 117.3M414 148.4L413.2 148.7L412.1 148.7L410.7 148.2L409 147.4L407 146.2L404.9 144.6L402.6 142.8L400.2 140.7L397.8 138.5L395.4 136.1L393.1 133.6L390.9 131.1L389 128.7L387.3 126.3L385.8 124.1L384.7 122.2L384 120.4L383.6 119L383.6 118L384 117.3M414 148.4L411.7 150.3L409 151.7L406.2 152.6L403.1 153L400 153L396.8 152.5L393.7 151.4L390.7 149.9L388 148L385.4 145.8L383.3 143.2L381.5 140.3L380.1 137.3L379.2 134.1L378.8 131L378.9 127.8L379.5 124.8L380.6 122L382.1 119.5L384 117.3M414 148.4L410.3 151.6L406.4 154.3L402.3 156.4L398.1 158L393.9 158.9L389.9 159.3L386.1 158.9L382.6 157.9L379.5 156.4L376.8 154.2L374.8 151.5L373.3 148.3L372.5 144.8L372.3 140.9L372.7 136.9L373.8 132.8L375.6 128.7L377.9 124.6L380.7 120.8L384 117.3M414 148.4L409.3 152.6L404.4 156.2L399.4 159.3L394.3 161.7L389.4 163.4L384.7 164.4L380.3 164.6L376.4 164L373.1 162.6L370.4 160.5L368.4 157.7L367.2 154.3L366.7 150.4L367.1 146.1L368.2 141.4L370.1 136.5L372.7 131.5L375.9 126.6L379.7 121.8L384 117.3M414 148.4L408.7 153.1L403.3 157.3L397.7 160.9L392.2 163.8L386.8 166L381.7 167.3L377.1 167.8L373 167.4L369.5 166.2L366.8 164.1L364.8 161.3L363.7 157.8L363.5 153.6L364.1 149L365.6 144L367.9 138.6L371 133.2L374.8 127.7L379.1 122.4L384 117.3M414 148.4L408.7 153.2L403.1 157.5L397.5 161.2L391.9 164.2L386.4 166.4L381.3 167.8L376.6 168.3L372.5 167.9L369 166.7L366.3 164.7L364.3 161.9L363.3 158.3L363 154.1L363.7 149.5L365.3 144.3L367.6 139L370.8 133.4L374.6 127.9L379.1 122.4L384 117.3M414 148.4L409.1 152.8L404 156.7L398.7 160L393.5 162.7L388.4 164.6L383.5 165.7L379.1 166L375.1 165.5L371.7 164.2L369 162.1L367 159.3L365.8 155.9L365.5 151.9L365.9 147.4L367.2 142.5L369.2 137.5L372 132.3L375.5 127.1L379.5 122L384 117.3M414 148.4L410 152L405.7 155L401.3 157.6L396.8 159.5L392.4 160.7L388.1 161.3L384.1 161.2L380.5 160.4L377.3 158.9L374.6 156.7L372.6 154L371.2 150.7L370.5 147L370.5 143L371.2 138.7L372.6 134.3L374.6 129.8L377.2 125.4L380.4 121.2L384 117.3M414 148.4L411.2 150.8L408.2 152.6L404.9 154L401.5 154.9L398 155.3L394.6 155L391.3 154.3L388.1 153L385.2 151.2L382.7 149L380.5 146.3L378.8 143.4L377.7 140.1L377 136.7L376.9 133.2L377.3 129.7L378.2 126.3L379.7 123L381.6 120L384 117.3M414 148.4L412.7 149.3L411.2 149.8L409.3 149.8L407.2 149.4L404.9 148.7L402.4 147.5L399.8 146L397.3 144.1L394.7 142L392.3 139.6L390 137.1L388 134.5L386.2 131.8L384.8 129.2L383.7 126.6L382.9 124.2L382.6 122L382.7 120.1L383.1 118.5L384 117.3M414 148.4L414.3 147.7L414.3 146.7L414 145.3L413.2 143.6L412.1 141.6L410.7 139.4L409 137L407 134.6L404.9 132.1L402.6 129.6L400.2 127.2L397.8 125L395.4 122.9L393.1 121.1L390.9 119.6L389 118.4L387.3 117.5L385.8 117L384.7 117L384 117.3M414 148.4L415.9 146.2L417.4 143.7L418.5 140.9L419.1 137.9L419.1 134.7L418.7 131.6L417.8 128.4L416.5 125.4L414.7 122.5L412.5 119.9L410 117.7L407.2 115.8L404.2 114.3L401.1 113.3L398 112.7L394.8 112.7L391.8 113.1L388.9 114.1L386.3 115.5L384 117.3M414 148.4L417.2 144.9L420.1 141.1L422.4 137.1L424.1 132.9L425.2 128.8L425.7 124.8L425.5 120.9L424.7 117.4L423.2 114.2L421.1 111.5L418.5 109.4L415.4 107.8L411.9 106.8L408.1 106.4L404 106.8L399.9 107.7L395.7 109.3L391.6 111.5L387.6 114.1L384 117.3M414 148.4L418.2 143.9L422.1 139.1L425.3 134.2L427.9 129.2L429.8 124.3L430.9 119.6L431.2 115.3L430.8 111.4L429.5 108L427.6 105.2L424.9 103.1L421.5 101.7L417.6 101.1L413.3 101.3L408.6 102.3L403.7 104L398.6 106.4L393.6 109.5L388.7 113.1L384 117.3M414 148.4L418.8 143.3L423.2 138L426.9 132.5L430 127.1L432.3 121.8L433.8 116.7L434.5 112.1L434.2 107.9L433.1 104.4L431.2 101.6L428.4 99.5L425 98.3L420.9 97.9L416.2 98.4L411.2 99.7L405.8 101.9L400.3 104.8L394.7 108.4L389.2 112.6L384 117.3M418.9 143.3L418.5 143.7L417.6 144.5L416.3 145.7L414.8 147.2L413.2 148.7L411.7 150.3L410.3 151.6L409.3 152.6L408.7 153.1L408.7 153.2L409.1 152.8L410 152L411.2 150.8L412.7 149.3L414.3 147.7L415.9 146.2L417.2 144.9L418.2 143.9L418.8 143.3L418.9 143.3M423.3 137.8L422.5 138.6L420.7 140.3L418.3 142.7L415.3 145.6L412.1 148.7L409 151.7L406.4 154.3L404.4 156.2L403.3 157.3L403.1 157.5L404 156.7L405.7 155L408.2 152.6L411.2 149.8L414.3 146.7L417.4 143.7L420.1 141.1L422.1 139.1L423.2 138L423.3 137.8M427.2 132.3L425.9 133.4L423.4 135.9L419.7 139.4L415.4 143.7L410.7 148.2L406.2 152.6L402.3 156.4L399.4 159.3L397.7 160.9L397.5 161.2L398.7 160L401.3 157.6L404.9 154L409.3 149.8L414 145.3L418.5 140.9L422.4 137.1L425.3 134.2L426.9 132.5L427.2 132.3M430.3 126.7L428.7 128.2L425.4 131.4L420.7 136L415 141.5L409 147.4L403.1 153L398.1 158L394.3 161.7L392.2 163.8L391.9 164.2L393.5 162.7L396.8 159.5L401.5 154.9L407.2 149.4L413.2 143.6L419.1 137.9L424.1 132.9L427.9 129.2L430 127.1L430.3 126.7M432.7 121.4L430.8 123.2L426.8 127L421.1 132.5L414.3 139.1L407 146.2L400 153L393.9 158.9L389.4 163.4L386.8 166L386.4 166.4L388.4 164.6L392.4 160.7L398 155.3L404.9 148.7L412.1 141.6L419.1 134.7L425.2 128.8L429.8 124.3L432.3 121.8L432.7 121.4M434.2 116.3L432 118.3L427.5 122.7L421 129L413.2 136.5L404.9 144.6L396.8 152.5L389.9 159.3L384.7 164.4L381.7 167.3L381.3 167.8L383.5 165.7L388.1 161.3L394.6 155L402.4 147.5L410.7 139.4L418.7 131.6L425.7 124.8L430.9 119.6L433.8 116.7L434.2 116.3M434.9 111.6L432.5 113.8L427.5 118.7L420.3 125.6L411.7 133.9L402.6 142.8L393.7 151.4L386.1 158.9L380.3 164.6L377.1 167.8L376.6 168.3L379.1 166L384.1 161.2L391.3 154.3L399.8 146L409 137L417.8 128.4L425.5 120.9L431.2 115.3L434.5 112.1L434.9 111.6M434.7 107.4L432.1 109.8L426.7 115L419.1 122.4L410 131.2L400.2 140.7L390.7 149.9L382.6 157.9L376.4 164L373 167.4L372.5 167.9L375.1 165.5L380.5 160.4L388.1 153L397.3 144.1L407 134.6L416.5 125.4L424.7 117.4L430.8 111.4L434.2 107.9L434.7 107.4M433.6 103.9L430.9 106.4L425.4 111.7L417.4 119.4L407.9 128.6L397.8 138.5L388 148L379.5 156.4L373.1 162.6L369.5 166.2L369 166.7L371.7 164.2L377.3 158.9L385.2 151.2L394.7 142L404.9 132.1L414.7 122.5L423.2 114.2L429.5 108L433.1 104.4L433.6 103.9M431.7 101L429 103.6L423.3 109L415.3 116.8L405.7 126.1L395.4 136.1L385.4 145.8L376.8 154.2L370.4 160.5L366.8 164.1L366.3 164.7L369 162.1L374.6 156.7L382.7 149L392.3 139.6L402.6 129.6L412.5 119.9L421.1 111.5L427.6 105.2L431.2 101.6L431.7 101M428.9 99L426.2 101.5L420.7 106.9L412.7 114.5L403.2 123.7L393.1 133.6L383.3 143.2L374.8 151.5L368.4 157.7L364.8 161.3L364.3 161.9L367 159.3L372.6 154L380.5 146.3L390 137.1L400.2 127.2L410 117.7L418.5 109.4L424.9 103.1L428.4 99.5L428.9 99M425.4 97.8L422.9 100.2L417.5 105.4L409.9 112.7L400.7 121.6L390.9 131.1L381.5 140.3L373.3 148.3L367.2 154.3L363.7 157.8L363.3 158.3L365.8 155.9L371.2 150.7L378.8 143.4L388 134.5L397.8 125L407.2 115.8L415.4 107.8L421.5 101.7L425 98.3L425.4 97.8M421.3 97.4L418.9 99.7L413.9 104.5L406.7 111.4L398.1 119.8L389 128.7L380.1 137.3L372.5 144.8L366.7 150.4L363.5 153.6L363 154.1L365.5 151.9L370.5 147L377.7 140.1L386.2 131.8L395.4 122.9L404.2 114.3L411.9 106.8L417.6 101.1L420.9 97.9L421.3 97.4M416.6 97.9L414.4 100L409.9 104.4L403.4 110.7L395.6 118.2L387.3 126.3L379.2 134.1L372.3 140.9L367.1 146.1L364.1 149L363.7 149.5L365.9 147.4L370.5 143L377 136.7L384.8 129.2L393.1 121.1L401.1 113.3L408.1 106.4L413.3 101.3L416.2 98.4L416.6 97.9M411.5 99.3L409.6 101.1L405.6 105L399.9 110.5L393.1 117.1L385.8 124.1L378.8 131L372.7 136.9L368.2 141.4L365.6 144L365.3 144.3L367.2 142.5L371.2 138.7L376.9 133.2L383.7 126.6L390.9 119.6L398 112.7L404 106.8L408.6 102.3L411.2 99.7L411.5 99.3M406.1 101.5L404.5 103L401.2 106.2L396.4 110.8L390.8 116.3L384.7 122.2L378.9 127.8L373.8 132.8L370.1 136.5L367.9 138.6L367.6 139L369.2 137.5L372.6 134.3L377.3 129.7L382.9 124.2L389 118.4L394.8 112.7L399.9 107.7L403.7 104L405.8 101.9L406.1 101.5M400.5 104.5L399.2 105.7L396.7 108.1L393 111.7L388.7 115.9L384 120.4L379.5 124.8L375.6 128.7L372.7 131.5L371 133.2L370.8 133.4L372 132.3L374.6 129.8L378.2 126.3L382.6 122L387.3 117.5L391.8 113.1L395.7 109.3L398.6 106.4L400.3 104.8L400.5 104.5M394.8 108.2L394 109L392.3 110.7L389.8 113.1L386.8 115.9L383.6 119L380.6 122L377.9 124.6L375.9 126.6L374.8 127.7L374.6 127.9L375.5 127.1L377.2 125.4L379.7 123L382.7 120.1L385.8 117L388.9 114.1L391.6 111.5L393.6 109.5L394.7 108.4L394.8 108.2M389.3 112.5L388.9 112.9L388 113.7L386.7 115L385.2 116.4L383.6 118L382.1 119.5L380.7 120.8L379.7 121.8L379.1 122.4L379.1 122.4L379.5 122L380.4 121.2L381.6 120L383.1 118.5L384.7 117L386.3 115.5L387.6 114.1L388.7 113.1L389.2 112.6L389.3 112.5" stroke="#d9602a" stroke-width="0.65" fill="none" stroke-linejoin="round"/>
<path d="M79.2 141L84.8 141M82 138.2L82 143.8M91.2 138.5L96.8 138.5M94 135.7L94 141.3M102.2 155.7L107.8 155.7M105 152.9L105 158.5M108.9 158L114.5 158M111.7 155.2L111.7 160.8M101.8 172L107.4 172M104.6 169.2L104.6 174.8M123.2 165L128.8 165M126 162.2L126 167.8M127.2 170.6L132.8 170.6M130 167.8L130 173.4M141.7 156.4L147.3 156.4M144.5 153.6L144.5 159.2M157.2 145.5L162.8 145.5M160 142.7L160 148.3" stroke="#ff1010" stroke-width="1.9" fill="none"/>
<path d="M85.7 82.6L85.7 86.6M87.4 83.6L84 85.6M87.4 85.6L84 83.6M96.7 93.8L96.7 97.8M98.4 94.8L95 96.8M98.4 96.8L95 94.8M117.2 101.5L117.2 105.5M118.9 102.5L115.5 104.5M118.9 104.5L115.5 102.5M150.7 100.8L150.7 104.8M152.4 101.8L149 103.8M152.4 103.8L149 101.8M107 121L107 125M108.7 122L105.3 124M108.7 124L105.3 122M129.8 197.6L129.8 201.6M131.5 198.6L128.1 200.6M131.5 200.6L128.1 198.6M103.3 212.6L103.3 216.6M105 213.6L101.6 215.6M105 215.6L101.6 213.6M142.9 206.4L142.9 210.4M144.6 207.4L141.2 209.4M144.6 209.4L141.2 207.4M160.5 142.5L160.5 146.5M162.2 143.5L158.8 145.5M162.2 145.5L158.8 143.5" stroke="#1010ff" stroke-width="1.9" stroke-linecap="round" fill="none"/>
<path d="M128.8 124L134.4 124M131.6 121.2L131.6 126.8M134.9 145.1L140.5 145.1M137.7 142.3L137.7 147.9M129.8 130.5L135.4 130.5M132.6 127.7L132.6 133.3M131.6 136.2L137.2 136.2M134.4 133.4L134.4 139M123.5 141.1L129.1 141.1M126.3 138.3L126.3 143.9M148 132L153.6 132M150.8 129.2L150.8 134.8M131.9 132.3L137.5 132.3M134.7 129.5L134.7 135.1M131 145.6L136.6 145.6M133.8 142.8L133.8 148.4M126.8 139.3L132.4 139.3M129.6 136.5L129.6 142.1M124.9 142.5L130.5 142.5M127.7 139.7L127.7 145.3M129 120.1L134.6 120.1M131.8 117.3L131.8 122.9" stroke="#ff1010" stroke-width="1.9" fill="none"/>
<path d="M147.9 127.4L147.9 131.4M149.6 128.4L146.1 130.4M149.6 130.4L146.1 128.4M142.2 140.2L142.2 144.2M143.9 141.2L140.4 143.2M143.9 143.2L140.4 141.2M138.2 134.5L138.2 138.5M139.9 135.5L136.5 137.5M139.9 137.5L136.5 135.5M133.1 115.6L133.1 119.6M134.8 116.6L131.4 118.6M134.8 118.6L131.4 116.6M119.5 139.4L119.5 143.4M121.2 140.4L117.7 142.4M121.2 142.4L117.7 140.4M140.6 130.8L140.6 134.8M142.4 131.8L138.9 133.8M142.4 133.8L138.9 131.8M135.8 126.7L135.8 130.7M137.5 127.7L134.1 129.7M137.5 129.7L134.1 127.7M121.3 139L121.3 143M123 140L119.6 142M123 142L119.6 140M130.2 122.3L130.2 126.3M132 123.3L128.5 125.3M132 125.3L128.5 123.3" stroke="#1010ff" stroke-width="1.9" stroke-linecap="round" fill="none"/>
<path d="M145.9 133.9L151.5 133.9M148.7 131.1L148.7 136.7M129.9 117.4L135.5 117.4M132.7 114.6L132.7 120.2M128.9 151.3L134.5 151.3M131.7 148.5L131.7 154.1M125.3 136.4L130.9 136.4M128.1 133.6L128.1 139.2M135.4 121.1L141 121.1M138.2 118.3L138.2 123.9M129 140.3L134.6 140.3M131.8 137.5L131.8 143.1M125.5 156.2L131.1 156.2M128.3 153.4L128.3 159M136.3 141L141.9 141M139.1 138.2L139.1 143.8M121.5 116.8L127.1 116.8M124.3 114L124.3 119.6M126.7 124.7L132.3 124.7M129.5 121.9L129.5 127.5M131.8 117.3L137.4 117.3M134.6 114.5L134.6 120.1" stroke="#ff1010" stroke-width="1.9" fill="none"/>
<path d="M133.8 137.9L133.8 141.9M135.5 138.9L132 140.9M135.5 140.9L132 138.9M128.2 130.9L128.2 134.9M129.9 131.9L126.5 133.9M129.9 133.9L126.5 131.9M135.8 114.7L135.8 118.7M137.6 115.7L134.1 117.7M137.6 117.7L134.1 115.7M130.1 110.2L130.1 114.2M131.8 111.2L128.3 113.2M131.8 113.2L128.3 111.2M117.3 125.1L117.3 129.1M119.1 126.1L115.6 128.1M119.1 128.1L115.6 126.1M138.3 124L138.3 128M140.1 125L136.6 127M140.1 127L136.6 125M149.7 135.8L149.7 139.8M151.4 136.8L147.9 138.8M151.4 138.8L147.9 136.8M132.7 147.3L132.7 151.3M134.4 148.3L131 150.3M134.4 150.3L131 148.3M123.4 120.4L123.4 124.4M125.1 121.4L121.6 123.4M125.1 123.4L121.6 121.4" stroke="#1010ff" stroke-width="1.9" stroke-linecap="round" fill="none"/>
<path d="M132.7 152.8L138.3 152.8M135.5 150L135.5 155.6M137.9 146.8L143.5 146.8M140.7 144L140.7 149.6M146.2 144.4L151.8 144.4M149 141.6L149 147.2M149.8 146.6L155.4 146.6M152.6 143.8L152.6 149.4M136.3 130.7L141.9 130.7M139.1 127.9L139.1 133.5M141.7 143.2L147.3 143.2M144.5 140.4L144.5 146M128 127.7L133.6 127.7M130.8 124.9L130.8 130.5M140.9 140.1L146.5 140.1M143.7 137.3L143.7 142.9M132.5 122.3L138.1 122.3M135.3 119.5L135.3 125.1M119.9 131.3L125.5 131.3M122.7 128.5L122.7 134.1M129.9 144.7L135.5 144.7M132.7 141.9L132.7 147.5" stroke="#ff1010" stroke-width="1.9" fill="none"/>
<path d="M126.8 133L126.8 137M128.5 134L125.1 136M128.5 136L125.1 134M137.8 129.9L137.8 133.9M139.5 130.9L136.1 132.9M139.5 132.9L136.1 130.9M147.5 134.9L147.5 138.9M149.3 135.9L145.8 137.9M149.3 137.9L145.8 135.9M142.4 128L142.4 132M144.2 129L140.7 131M144.2 131L140.7 129M123.3 150.5L123.3 154.5M125 151.5L121.5 153.5M125 153.5L121.5 151.5M119 111.4L119 115.4M120.7 112.4L117.2 114.4M120.7 114.4L117.2 112.4M134.4 136L134.4 140M136.1 137L132.6 139M136.1 139L132.6 137M130.4 110.2L130.4 114.2M132.1 111.2L128.6 113.2M132.1 113.2L128.6 111.2" stroke="#1010ff" stroke-width="1.9" stroke-linecap="round" fill="none"/>
<path d="M146 134.7L151.6 134.7M148.8 131.9L148.8 137.5M135.6 126.8L141.2 126.8M138.4 124L138.4 129.6M136.9 144.4L142.5 144.4M139.7 141.6L139.7 147.2M128.4 131.8L134 131.8M131.2 129L131.2 134.6M145.3 138.7L150.9 138.7M148.1 135.9L148.1 141.5M120 139L125.6 139M122.8 136.2L122.8 141.8M137.8 138.4L143.4 138.4M140.6 135.6L140.6 141.2M125.8 133L131.4 133M128.6 130.2L128.6 135.8M113.7 141.1L119.2 141.1M116.5 138.3L116.5 143.9M129.1 127.9L134.7 127.9M131.9 125.1L131.9 130.7M142.1 155.9L147.7 155.9M144.9 153.1L144.9 158.7" stroke="#ff1010" stroke-width="1.9" fill="none"/>
<path d="M133.5 111.9L133.5 115.9M135.2 112.9L131.8 114.9M135.2 114.9L131.8 112.9M131.4 115.6L131.4 119.6M133.2 116.6L129.7 118.6M133.2 118.6L129.7 116.6M130.2 155.8L130.2 159.8M131.9 156.8L128.5 158.8M131.9 158.8L128.5 156.8M127.2 145.9L127.2 149.9M128.9 146.9L125.5 148.9M128.9 148.9L125.5 146.9M148.5 129L148.5 133M150.2 130L146.8 132M150.2 132L146.8 130M136.8 155.8L136.8 159.8M138.5 156.8L135 158.8M138.5 158.8L135 156.8M132.4 129.3L132.4 133.3M134.1 130.3L130.6 132.3M134.1 132.3L130.6 130.3M132.7 153.4L132.7 157.4M134.4 154.4L130.9 156.4M134.4 156.4L130.9 154.4" stroke="#1010ff" stroke-width="1.9" stroke-linecap="round" fill="none"/>
<path d="M416.5 93L421.5 93M419 90.5L419 95.5M401.9 98.5L406.9 98.5M404.4 96L404.4 101M407.5 105.5L412.5 105.5M410 103L410 108M358 158.7L363 158.7M360.5 156.2L360.5 161.2M367.5 156L372.5 156M370 153.5L370 158.5M425.1 138L430.1 138M427.6 135.5L427.6 140.5M427.5 150L432.5 150M430 147.5L430 152.5M422.1 154.7L427.1 154.7M424.6 152.2L424.6 157.2M376.5 141L381.5 141M379 138.5L379 143.5M413 126L418 126M415.5 123.5L415.5 128.5M414.5 131L419.5 131M417 128.5L417 133.5M407.9 119.3L412.9 119.3M410.4 116.8L410.4 121.8M403.7 112.3L408.7 112.3M406.2 109.8L406.2 114.8M407.9 115.4L412.9 115.4M410.4 112.9L410.4 117.9M401.1 115.7L406.1 115.7M403.6 113.2L403.6 118.2M404.8 113.8L409.8 113.8M407.3 111.3L407.3 116.3M398.7 117.6L403.7 117.6M401.2 115.1L401.2 120.1M401.8 115.1L406.8 115.1M404.3 112.6L404.3 117.6M400.8 129.2L405.8 129.2M403.3 126.7L403.3 131.7M405 107.6L410 107.6M407.5 105.1L407.5 110.1M402.5 109.9L407.5 109.9M405 107.4L405 112.4M406.1 114L411.1 114M408.6 111.5L408.6 116.5M400.8 114.7L405.8 114.7M403.3 112.2L403.3 117.2M408.9 123.8L413.9 123.8M411.4 121.3L411.4 126.3M406.7 119.6L411.7 119.6M409.2 117.1L409.2 122.1M403.4 103L408.4 103M405.9 100.5L405.9 105.5M399.8 121.8L404.8 121.8M402.3 119.3L402.3 124.3M406.5 122.5L411.5 122.5M409 120L409 125M404.4 125.5L409.4 125.5M406.9 123L406.9 128M399.7 117.7L404.7 117.7M402.2 115.2L402.2 120.2M409.3 110.1L414.3 110.1M411.8 107.6L411.8 112.6M410.3 114.7L415.3 114.7M412.8 112.2L412.8 117.2M404.5 105.5L409.5 105.5M407 103L407 108M409.7 117.4L414.7 117.4M412.2 114.9L412.2 119.9M396.6 117.8L401.6 117.8M399.1 115.3L399.1 120.3M408.7 111.4L413.7 111.4M411.2 108.9L411.2 113.9M402.9 118.9L407.9 118.9M405.4 116.4L405.4 121.4M410.3 118.7L415.3 118.7M412.8 116.2L412.8 121.2M408.4 129.4L413.4 129.4M410.9 126.9L410.9 131.9M405.5 120.5L410.5 120.5M408 118L408 123M405.8 113.1L410.8 113.1M408.3 110.6L408.3 115.6M407.7 113.1L412.7 113.1M410.2 110.6L410.2 115.6M401.6 120.5L406.6 120.5M404.1 118L404.1 123M410.1 124.5L415.1 124.5M412.6 122L412.6 127M407.3 119.8L412.3 119.8M409.8 117.3L409.8 122.3M383.6 137.2L388.6 137.2M386.1 134.7L386.1 139.7M385.8 131.2L390.8 131.2M388.3 128.7L388.3 133.7M390.1 137.3L395.1 137.3M392.6 134.8L392.6 139.8M385.1 132.3L390.1 132.3M387.6 129.8L387.6 134.8M391.8 144.2L396.8 144.2M394.3 141.7L394.3 146.7M387.5 130.1L392.5 130.1M390 127.6L390 132.6M389.6 139.3L394.6 139.3M392.1 136.8L392.1 141.8M392.3 135.8L397.3 135.8M394.8 133.3L394.8 138.3M388.6 134.8L393.6 134.8M391.1 132.3L391.1 137.3M381 140.7L386 140.7M383.5 138.2L383.5 143.2M391.4 141.9L396.4 141.9M393.9 139.4L393.9 144.4M388.1 137.3L393.1 137.3M390.6 134.8L390.6 139.8M390.1 135.1L395.1 135.1M392.6 132.6L392.6 137.6M390.5 131.8L395.5 131.8M393 129.3L393 134.3M390.3 139.1L395.3 139.1M392.8 136.6L392.8 141.6M387.6 134.6L392.6 134.6M390.1 132.1L390.1 137.1M379.5 132L384.5 132M382 129.5L382 134.5M383.1 126.8L388.1 126.8M385.6 124.3L385.6 129.3M385.1 143.8L390.1 143.8M387.6 141.3L387.6 146.3M383.3 130.5L388.3 130.5M385.8 128L385.8 133M391.6 133.4L396.6 133.4M394.1 130.9L394.1 135.9M393.7 137.6L398.7 137.6M396.2 135.1L396.2 140.1M386.5 141.7L391.5 141.7M389 139.2L389 144.2M393.7 135L398.7 135M396.2 132.5L396.2 137.5M388.2 138.6L393.2 138.6M390.7 136.1L390.7 141.1M382.3 146.6L387.3 146.6M384.8 144.1L384.8 149.1M401.1 125.7L406.1 125.7M403.6 123.2L403.6 128.2M400.8 119.5L405.8 119.5M403.3 117L403.3 122M397.3 120.9L402.3 120.9M399.8 118.4L399.8 123.4M401.1 125L406.1 125M403.6 122.5L403.6 127.5M400.7 133.2L405.7 133.2M403.2 130.7L403.2 135.7M401.8 122.2L406.8 122.2M404.3 119.7L404.3 124.7M390.6 131.4L395.6 131.4M393.1 128.9L393.1 133.9M391.8 131.3L396.8 131.3M394.3 128.8L394.3 133.8M407.5 122L412.5 122M410 119.5L410 124.5M425.1 100.9L430.1 100.9M427.6 98.4L427.6 103.4M392 137.6L397 137.6M394.5 135.1L394.5 140.1M403.2 110.7L408.2 110.7M405.7 108.2L405.7 113.2M391.8 128.7L396.8 128.7M394.3 126.2L394.3 131.2M389.8 140.3L394.8 140.3M392.3 137.8L392.3 142.8M399.7 130.2L404.7 130.2M402.2 127.7L402.2 132.7M386.2 129L391.2 129M388.7 126.5L388.7 131.5M396.7 136L401.7 136M399.2 133.5L399.2 138.5M399.9 129.4L404.9 129.4M402.4 126.9L402.4 131.9M398.6 132.4L403.6 132.4M401.1 129.9L401.1 134.9M401.6 119.9L406.6 119.9M404.1 117.4L404.1 122.4M404.3 123L409.3 123M406.8 120.5L406.8 125.5M392.6 135.3L397.6 135.3M395.1 132.8L395.1 137.8" stroke="#ff1010" stroke-width="1.7" fill="none"/>
<path d="M406.5 40.9L406.5 45.7M408.6 42.1L404.4 44.5M408.6 44.5L404.4 42.1M403.7 46.3L403.7 51.1M405.8 47.5L401.6 49.9M405.8 49.9L401.6 47.5M397 59.4L397 64.2M399.1 60.6L394.9 63M399.1 63L394.9 60.6M388.4 185.8L388.4 190.6M390.5 187L386.3 189.4M390.5 189.4L386.3 187M384.7 174.4L384.7 179.2M386.8 175.6L382.6 178M386.8 178L382.6 175.6M403.3 174.4L403.3 179.2M405.4 175.6L401.2 178M405.4 178L401.2 175.6M445.8 197.8L445.8 202.6M447.9 199L443.7 201.4M447.9 201.4L443.7 199M416 206.1L416 210.9M418.1 207.3L413.9 209.7M418.1 209.7L413.9 207.3M401 166.6L401 171.4M403.1 167.8L398.9 170.2M403.1 170.2L398.9 167.8M392.4 169L392.4 173.8M394.5 170.2L390.3 172.6M394.5 172.6L390.3 170.2M454.8 141.2L454.8 146M456.9 142.4L452.7 144.8M456.9 144.8L452.7 142.4M420 138.6L420 143.4M422.1 139.8L417.9 142.2M422.1 142.2L417.9 139.8M400.4 109L400.4 113.8M402.4 110.2L398.3 112.6M402.4 112.6L398.3 110.2M403.6 66L403.6 70.8M405.7 67.2L401.6 69.6M405.7 69.6L401.6 67.2M400.1 107.6L400.1 112.4M402.2 108.8L398 111.2M402.2 111.2L398 108.8M401.6 123.5L401.6 128.3M403.7 124.7L399.5 127.1M403.7 127.1L399.5 124.7M398.3 98.7L398.3 103.5M400.3 99.9L396.2 102.3M400.3 102.3L396.2 99.9M402.6 78.7L402.6 83.5M404.7 79.9L400.5 82.3M404.7 82.3L400.5 79.9M400.9 103.8L400.9 108.6M403 105L398.8 107.4M403 107.4L398.8 105M399.2 106L399.2 110.8M401.3 107.2L397.1 109.6M401.3 109.6L397.1 107.2M400.6 100.5L400.6 105.3M402.7 101.7L398.6 104.1M402.7 104.1L398.6 101.7M400.5 72.2L400.5 77M402.6 73.4L398.4 75.8M402.6 75.8L398.4 73.4M398.3 120.6L398.3 125.4M400.4 121.8L396.2 124.2M400.4 124.2L396.2 121.8M402 120.9L402 125.7M404.1 122.1L399.9 124.5M404.1 124.5L399.9 122.1M399.9 87.2L399.9 92M402 88.4L397.8 90.8M402 90.8L397.8 88.4M400 99.4L400 104.2M402.1 100.6L398 103M402.1 103L398 100.6M400.6 65.3L400.6 70.1M402.7 66.5L398.5 68.9M402.7 68.9L398.5 66.5M399.1 123.9L399.1 128.7M401.2 125.1L397 127.5M401.2 127.5L397 125.1M399.2 111.5L399.2 116.3M401.3 112.7L397.2 115.1M401.3 115.1L397.2 112.7M400 99.2L400 104M402.1 100.4L397.9 102.8M402.1 102.8L397.9 100.4M399.9 108.8L399.9 113.6M401.9 110L397.8 112.4M401.9 112.4L397.8 110M401.7 74.5L401.7 79.3M403.8 75.7L399.6 78.1M403.8 78.1L399.6 75.7M402.4 81.6L402.4 86.4M404.5 82.8L400.3 85.2M404.5 85.2L400.3 82.8M399.4 75.6L399.4 80.4M401.5 76.8L397.3 79.2M401.5 79.2L397.3 76.8M398.1 97.4L398.1 102.2M400.1 98.6L396 101M400.1 101L396 98.6M401.3 67.5L401.3 72.3M403.3 68.7L399.2 71.1M403.3 71.1L399.2 68.7M400.2 115.4L400.2 120.2M402.2 116.6L398.1 119M402.2 119L398.1 116.6M398.5 87.7L398.5 92.5M400.6 88.9L396.5 91.3M400.6 91.3L396.5 88.9M399.5 87.4L399.5 92.2M401.6 88.6L397.5 91M401.6 91L397.5 88.6M400.6 65.5L400.6 70.3M402.7 66.7L398.5 69.1M402.7 69.1L398.5 66.7M399.3 103.6L399.3 108.4M401.4 104.8L397.2 107.2M401.4 107.2L397.2 104.8M399.9 112.2L399.9 117M402 113.4L397.8 115.8M402 115.8L397.8 113.4M400.7 100.4L400.7 105.2M402.8 101.6L398.6 104M402.8 104L398.6 101.6M397.2 76L397.2 80.8M399.3 77.2L395.2 79.6M399.3 79.6L395.2 77.2M397.6 107.7L397.6 112.5M399.7 108.9L395.5 111.3M399.7 111.3L395.5 108.9M403.4 72.7L403.4 77.5M405.5 73.9L401.3 76.3M405.5 76.3L401.3 73.9M400.1 114.9L400.1 119.7M402.2 116.1L398 118.5M402.2 118.5L398 116.1M399.6 97.2L399.6 102M401.7 98.4L397.5 100.8M401.7 100.8L397.5 98.4M401.1 76.9L401.1 81.7M403.1 78.1L399 80.5M403.1 80.5L399 78.1M400.7 93.3L400.7 98.1M402.8 94.5L398.6 96.9M402.8 96.9L398.6 94.5M399 100.9L399 105.7M401.1 102.1L397 104.5M401.1 104.5L397 102.1M399.7 78.8L399.7 83.6M401.8 80L397.6 82.4M401.8 82.4L397.6 80M401.9 114.9L401.9 119.7M404 116.1L399.8 118.5M404 118.5L399.8 116.1M394.7 87.7L394.7 92.5M396.8 88.9L392.7 91.3M396.8 91.3L392.7 88.9M399.4 120.4L399.4 125.2M401.5 121.6L397.3 124M401.5 124L397.3 121.6M400.9 112.5L400.9 117.3M403 113.7L398.9 116.1M403 116.1L398.9 113.7M399.4 70.3L399.4 75.1M401.5 71.5L397.4 73.9M401.5 73.9L397.4 71.5M401.8 100.2L401.8 105M403.8 101.4L399.7 103.8M403.8 103.8L399.7 101.4M399.4 82.3L399.4 87.1M401.5 83.5L397.3 85.9M401.5 85.9L397.3 83.5M400.7 108.5L400.7 113.3M402.8 109.7L398.6 112.1M402.8 112.1L398.6 109.7M398.2 96.4L398.2 101.2M400.2 97.6L396.1 100M400.2 100L396.1 97.6M399.8 89.4L399.8 94.2M401.9 90.6L397.7 93M401.9 93L397.7 90.6M401.2 114.8L401.2 119.6M403.2 116L399.1 118.4M403.2 118.4L399.1 116M400.8 61.9L400.8 66.7M402.9 63.1L398.7 65.5M402.9 65.5L398.7 63.1M398.7 95.8L398.7 100.6M400.8 97L396.6 99.4M400.8 99.4L396.6 97M400.4 82.2L400.4 87M402.5 83.4L398.3 85.8M402.5 85.8L398.3 83.4M400 63.7L400 68.5M402 64.9L397.9 67.3M402 67.3L397.9 64.9M394.9 153.1L394.9 157.9M397 154.3L392.8 156.7M397 156.7L392.8 154.3M405 136.3L405 141.1M407.1 137.5L403 139.9M407.1 139.9L403 137.5M397.6 139.9L397.6 144.7M399.6 141.1L395.5 143.5M399.6 143.5L395.5 141.1M413.7 154.7L413.7 159.5M415.8 155.9L411.7 158.3M415.8 158.3L411.7 155.9M400.4 144.1L400.4 148.9M402.4 145.3L398.3 147.7M402.4 147.7L398.3 145.3M396.2 152.4L396.2 157.2M398.3 153.6L394.2 156M398.3 156L394.2 153.6M394.4 136L394.4 140.8M396.5 137.2L392.3 139.6M396.5 139.6L392.3 137.2M398.9 153.2L398.9 158M401 154.4L396.9 156.8M401 156.8L396.9 154.4M387.9 139.2L387.9 144M390 140.4L385.8 142.8M390 142.8L385.8 140.4M394.8 145.5L394.8 150.3M396.8 146.7L392.7 149.1M396.8 149.1L392.7 146.7M387.9 145.6L387.9 150.4M390 146.8L385.9 149.2M390 149.2L385.9 146.8M386.3 152L386.3 156.8M388.3 153.2L384.2 155.6M388.3 155.6L384.2 153.2M403.5 150.4L403.5 155.2M405.6 151.6L401.4 154M405.6 154L401.4 151.6M394.8 140.2L394.8 145M396.9 141.4L392.7 143.8M396.9 143.8L392.7 141.4M388.2 160.6L388.2 165.4M390.3 161.8L386.1 164.2M390.3 164.2L386.1 161.8M391.8 140.9L391.8 145.7M393.9 142.1L389.7 144.5M393.9 144.5L389.7 142.1M401.2 147.3L401.2 152.1M403.3 148.5L399.1 150.9M403.3 150.9L399.1 148.5M392 161.3L392 166.1M394.1 162.5L389.9 164.9M394.1 164.9L389.9 162.5M399.5 162.9L399.5 167.7M401.6 164.1L397.4 166.5M401.6 166.5L397.4 164.1M380.1 152.7L380.1 157.5M382.1 153.9L378 156.3M382.1 156.3L378 153.9M400.7 149.5L400.7 154.3M402.8 150.7L398.7 153.1M402.8 153.1L398.7 150.7M402.5 153.1L402.5 157.9M404.6 154.3L400.5 156.7M404.6 156.7L400.5 154.3M398.1 142.1L398.1 146.9M400.2 143.3L396 145.7M400.2 145.7L396 143.3M392.2 148L392.2 152.8M394.3 149.2L390.1 151.6M394.3 151.6L390.1 149.2M392.4 148.4L392.4 153.2M394.4 149.6L390.3 152M394.4 152L390.3 149.6M403.6 145.2L403.6 150M405.7 146.4L401.6 148.8M405.7 148.8L401.6 146.4M407.1 157.1L407.1 161.9M409.2 158.3L405 160.7M409.2 160.7L405 158.3M396.8 151L396.8 155.8M398.9 152.2L394.7 154.6M398.9 154.6L394.7 152.2M382.5 156.8L382.5 161.6M384.5 158L380.4 160.4M384.5 160.4L380.4 158M384.1 147.8L384.1 152.6M386.1 149L382 151.4M386.1 151.4L382 149M410.8 153.8L410.8 158.6M412.9 155L408.8 157.4M412.9 157.4L408.8 155M408.6 150L408.6 154.8M410.7 151.2L406.6 153.6M410.7 153.6L406.6 151.2M400 143.2L400 148M402 144.4L397.9 146.8M402 146.8L397.9 144.4M416.5 149L416.5 153.8M418.6 150.2L414.5 152.6M418.6 152.6L414.5 150.2M399.9 149L399.9 153.8M402 150.2L397.8 152.6M402 152.6L397.8 150.2M375.3 136L375.3 140.8M377.4 137.2L373.2 139.6M377.4 139.6L373.2 137.2M396.2 133L396.2 137.8M398.3 134.2L394.1 136.6M398.3 136.6L394.1 134.2M393.5 149.4L393.5 154.2M395.5 150.6L391.4 153M395.5 153L391.4 150.6M388.2 117.7L388.2 122.5M390.3 118.9L386.1 121.3M390.3 121.3L386.1 118.9M405.9 137.4L405.9 142.2M408 138.6L403.8 141M408 141L403.8 138.6M395.7 148.2L395.7 153M397.8 149.4L393.6 151.8M397.8 151.8L393.6 149.4M401.6 123.6L401.6 128.4M403.7 124.8L399.5 127.2M403.7 127.2L399.5 124.8M421.6 144.7L421.6 149.5M423.6 145.9L419.5 148.3M423.6 148.3L419.5 145.9M404.5 138.4L404.5 143.2M406.5 139.6L402.4 142M406.5 142L402.4 139.6M423.5 123.1L423.5 127.9M425.5 124.3L421.4 126.7M425.5 126.7L421.4 124.3M391.7 125.5L391.7 130.3M393.7 126.7L389.6 129.1M393.7 129.1L389.6 126.7M383.4 137.3L383.4 142.1M385.5 138.5L381.4 140.9M385.5 140.9L381.4 138.5M398.2 131.7L398.2 136.5M400.2 132.9L396.1 135.3M400.2 135.3L396.1 132.9M390.6 147.9L390.6 152.7M392.7 149.1L388.5 151.5M392.7 151.5L388.5 149.1M403.2 145.4L403.2 150.2M405.3 146.6L401.1 149M405.3 149L401.1 146.6" stroke="#2a2aff" stroke-width="0.9" fill="none" opacity="0.9"/>
<path d="M158.3 132.6L172.9 125L172.9 129.8L263.5 129.8L263.5 135.3L172.9 135.3L172.9 140.2Z" fill="#d4601f"/>
<path d="M150.5 168.3L163.5 160.8L163.5 165.6L263.5 165.6L263.5 171.1L163.5 171.1L163.5 175.8Z" fill="#2e75b6"/>
<path d="M427.6 131L442.5 123.4L442.5 128.2L537.4 128.2L537.4 133.8L442.5 133.8L442.5 138.6Z" fill="#d4601f"/>
<path d="M429 167.8L442.5 160.2L442.5 165.1L537.4 165.1L537.4 170.6L442.5 170.6L442.5 175.4Z" fill="#2e75b6"/>
<path d="M75.8 12.9L75.8 16.7M77.4 13.8L74.2 15.8M77.4 15.8L74.2 13.9" stroke="#1010ff" stroke-width="1.8" stroke-linecap="round" fill="none"/>
<path d="M73.4 32.6L78.2 32.6M75.8 30.2L75.8 35" stroke="#ff1010" stroke-width="1.6" fill="none"/>
<path d="M342 13.6L342 18.4M344.1 14.8L339.9 17.2M344.1 17.2L339.9 14.8" stroke="#3a3aff" stroke-width="0.8" fill="none"/>
<path d="M339.6 32L344.4 32M342 29.6L342 34.4" stroke="#ff1010" stroke-width="1.6" fill="none"/>
<g font-family="'Liberation Serif', 'Times New Roman', serif" stroke-width="0.2" paint-order="stroke"><text x="50.8" y="217" font-size="15.5" fill="#1c1c1c" stroke="#1c1c1c" text-anchor="end">-15</text><text x="50.8" y="188" font-size="15.5" fill="#1c1c1c" stroke="#1c1c1c" text-anchor="end">-10</text><text x="50.8" y="159" font-size="15.5" fill="#1c1c1c" stroke="#1c1c1c" text-anchor="end">-5</text><text x="50.8" y="130" font-size="15.5" fill="#1c1c1c" stroke="#1c1c1c" text-anchor="end">0</text><text x="50.8" y="101" font-size="15.5" fill="#1c1c1c" stroke="#1c1c1c" text-anchor="end">5</text><text x="50.8" y="72" font-size="15.5" fill="#1c1c1c" stroke="#1c1c1c" text-anchor="end">10</text><text x="50.8" y="43" font-size="15.5" fill="#1c1c1c" stroke="#1c1c1c" text-anchor="end">15</text><text x="61" y="243.3" font-size="15.5" fill="#1c1c1c" stroke="#1c1c1c" text-anchor="end">5</text><text x="81.4" y="256.9" font-size="15.5" fill="#1c1c1c" stroke="#1c1c1c" text-anchor="end">0</text><text x="101.9" y="270.5" font-size="15.5" fill="#1c1c1c" stroke="#1c1c1c" text-anchor="end">-5</text><text x="154.7" y="273.1" font-size="15.5" fill="#1c1c1c" stroke="#1c1c1c" text-anchor="middle">-5</text><text x="178.7" y="262.9" font-size="15.5" fill="#1c1c1c" stroke="#1c1c1c" text-anchor="middle">0</text><text x="205.2" y="252.7" font-size="15.5" fill="#1c1c1c" stroke="#1c1c1c" text-anchor="middle">5</text><text x="11.6" y="277.5" font-size="18" fill="#1c1c1c" stroke="#1c1c1c" text-anchor="start">North (m)</text><text x="172.6" y="282.4" font-size="18" fill="#1c1c1c" stroke="#1c1c1c" text-anchor="start">East (m)</text><text transform="translate(19.6 129.3) rotate(-90)" font-size="18" fill="#1c1c1c" stroke="#1c1c1c" text-anchor="middle">Up (m)</text><text x="92.3" y="19.5" font-size="12.7" fill="#000" stroke="#000" text-anchor="start">w/o DTMB</text><text x="92.3" y="37" font-size="12.7" fill="#000" stroke="#000" text-anchor="start">w DTMB</text><text x="315.8" y="216.3" font-size="15.5" fill="#1c1c1c" stroke="#1c1c1c" text-anchor="end">-15</text><text x="315.8" y="187.3" font-size="15.5" fill="#1c1c1c" stroke="#1c1c1c" text-anchor="end">-10</text><text x="315.8" y="158.3" font-size="15.5" fill="#1c1c1c" stroke="#1c1c1c" text-anchor="end">-5</text><text x="315.8" y="129.3" font-size="15.5" fill="#1c1c1c" stroke="#1c1c1c" text-anchor="end">0</text><text x="315.8" y="100.3" font-size="15.5" fill="#1c1c1c" stroke="#1c1c1c" text-anchor="end">5</text><text x="315.8" y="71.3" font-size="15.5" fill="#1c1c1c" stroke="#1c1c1c" text-anchor="end">10</text><text x="315.8" y="42.3" font-size="15.5" fill="#1c1c1c" stroke="#1c1c1c" text-anchor="end">15</text><text x="326" y="242.6" font-size="15.5" fill="#1c1c1c" stroke="#1c1c1c" text-anchor="end">5</text><text x="346.4" y="256.2" font-size="15.5" fill="#1c1c1c" stroke="#1c1c1c" text-anchor="end">0</text><text x="366.9" y="269.8" font-size="15.5" fill="#1c1c1c" stroke="#1c1c1c" text-anchor="end">-5</text><text x="419.7" y="272.4" font-size="15.5" fill="#1c1c1c" stroke="#1c1c1c" text-anchor="middle">-5</text><text x="443.7" y="262.2" font-size="15.5" fill="#1c1c1c" stroke="#1c1c1c" text-anchor="middle">0</text><text x="470.2" y="252" font-size="15.5" fill="#1c1c1c" stroke="#1c1c1c" text-anchor="middle">5</text><text x="274.6" y="278.8" font-size="18" fill="#1c1c1c" stroke="#1c1c1c" text-anchor="start">North (m)</text><text x="437.6" y="281.7" font-size="18" fill="#1c1c1c" stroke="#1c1c1c" text-anchor="start">East (m)</text><text transform="translate(284.6 128.6) rotate(-90)" font-size="18" fill="#1c1c1c" stroke="#1c1c1c" text-anchor="middle">Up (m)</text><text x="357.3" y="19.6" font-size="12.7" fill="#000" stroke="#000" text-anchor="start">w/o DTMB</text><text x="357.3" y="37.1" font-size="12.7" fill="#000" stroke="#000" text-anchor="start">w DTMB</text><text x="188.8" y="123.4" font-size="18" fill="#d4601f" stroke="#d4601f" text-anchor="start">w DTMB</text><text x="165.6" y="157.9" font-size="20.4" fill="#2e75b6" stroke="#2e75b6" text-anchor="start">w/o DTMB</text><text x="464.7" y="123.4" font-size="18" fill="#d4601f" stroke="#d4601f" text-anchor="start">w DTMB</text><text x="442.3" y="158.6" font-size="20.3" fill="#2e75b6" stroke="#2e75b6" text-anchor="start">w/o DTMB</text><text x="122" y="320.8" font-size="17" fill="#111" stroke="#111" text-anchor="middle">(<tspan font-weight="bold">a</tspan>)</text><text x="399.5" y="320.8" font-size="17" fill="#111" stroke="#111" text-anchor="middle">(<tspan font-weight="bold">b</tspan>)</text></g>
</svg>
</body></html>
